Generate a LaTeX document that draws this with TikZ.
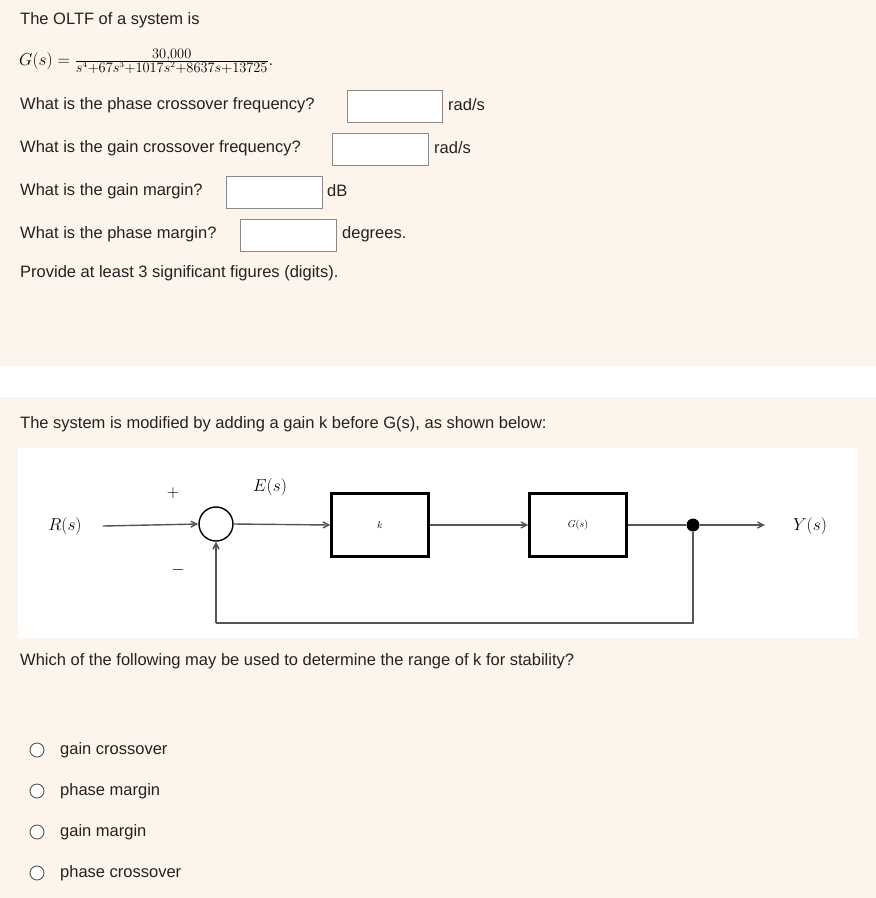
\documentclass[tikz,border=0pt]{standalone}
\usepackage{fontspec}
\setmainfont{Liberation Sans}
\usetikzlibrary{arrows.meta}
\definecolor{cream}{HTML}{FDF5EB}
\definecolor{txt}{HTML}{222222}
\definecolor{boxline}{HTML}{8A8A8A}
\definecolor{dline}{HTML}{555555}
\begin{document}
\begin{tikzpicture}[x=1pt,y=-1pt,
  body/.style={anchor=west,inner sep=0pt,text=txt,font=\fontsize{16.5}{18}\selectfont},
  ansbox/.style={draw=boxline,fill=white,line width=0.8pt},
  blk/.style={draw=black,line width=2.2pt,minimum width=97pt,minimum height=63pt,inner sep=0pt},
  sig/.style={draw=dline,line width=1.4pt},
  arr/.style={sig,-{Straight Barb[length=6pt,width=6pt]}},
  mlab/.style={inner sep=0pt,text=black,font=\fontsize{17}{19}\selectfont},
  radio/.style={draw=dline,line width=0.9pt,fill=white}]
\useasboundingbox (0,0) rectangle (876,898);
\fill[cream] (0,0) rectangle (876,898);
\fill[white] (0,366) rectangle (876,397);
\fill[white] (18,448) rectangle (858,638);

\node[body] (t1) at (20,20) {The OLTF of a system is};
\node[anchor=west,inner sep=0pt,font=\fontsize{19}{21}\selectfont] (eq) at (19,61)
  {$G(s)=\frac{30{,}000}{s^4+67s^3+1017s^2+8637s+13725}.$};

\node[body] (q1) at (20,105) {What is the phase crossover frequency?};
\draw[ansbox] (347,90) rectangle (442,122);
\node[body] (u1) at (448,105) {rad/s};
\node[body] (q2) at (20,148) {What is the gain crossover frequency?};
\draw[ansbox] (332,133) rectangle (428,165);
\node[body] (u2) at (434,148) {rad/s};
\node[body] (q3) at (20,191) {What is the gain margin?};
\draw[ansbox] (226,176) rectangle (322,208);
\node[body] (u3) at (327,191) {dB};
\node[body] (q4) at (20,234) {What is the phase margin?};
\draw[ansbox] (240,219) rectangle (336,251);
\node[body] (u4) at (342,234) {degrees.};
\node[body] (q5) at (20,273) {Provide at least 3 significant figures (digits).};

\node[body] (m1) at (20,424) {The system is modified by adding a gain k before G(s), as shown below:};

% block diagram
\node[mlab] (R) at (65,526) {$R(s)$};
\node[draw=black,line width=1.4pt,circle,minimum size=34pt,inner sep=0pt] (S) at (216,524) {};
\node[blk] (K) at (380,525) {$k$};
\node[blk] (G) at (578,525) {$G(s)$};
\node[mlab] (Y) at (810,526) {$Y(s)$};
\node[circle,fill=black,minimum size=13pt,inner sep=0pt] (D) at (693,525) {};
\node[mlab] (plus) at (173,493) {$+$};
\node[mlab] (minus) at (178,570) {$-$};
\node[mlab] (E) at (270,487) {$E(s)$};
\coordinate (Yend) at (765,525);
\coordinate (fb1) at (693,623);
\coordinate (fb2) at (216,623);
\draw[arr] (R.east -| 103,0) -- (S.west);
\draw[arr] (S.east) -- (K.west);
\draw[arr] (K.east) -- (G.west);
\draw[sig] (G.east) -- (D);
\draw[arr] (D) -- (Yend);
\draw[sig] (D) -- (fb1) -- (fb2);
\draw[arr] (fb2) -- (S.south);

\node[body] (m2) at (20,661) {Which of the following may be used to determine the range of k for stability?};

\foreach \y/\t/\n in {750/gain crossover/a,791/phase margin/b,832/gain margin/c,873/phase crossover/d}{
  \draw[radio] (37,\y) circle (7);
  \node[body] (o\n) at (60,\y) {\t};
}
\end{tikzpicture}
\end{document}
